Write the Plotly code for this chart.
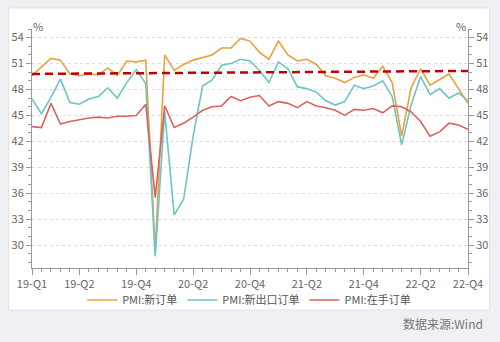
import plotly.graph_objects as go

months = list(range(47))
tick_vals = [0, 5, 11, 17, 23, 29, 35, 41, 46]
tick_text = ['19-Q1', '19-Q2', '19-Q4', '20-Q2', '20-Q4', '21-Q2', '21-Q4', '22-Q2', '22-Q4']

new_orders = [49.6, 50.6, 51.6, 51.4, 49.8, 49.6, 49.8, 49.7, 50.5, 49.6, 51.3, 51.2,
              51.4, 29.3, 52.0, 50.2, 50.9, 51.4, 51.7, 52.0, 52.8, 52.8, 53.9, 53.6,
              52.3, 51.5, 53.6, 52.0, 51.3, 51.5, 50.9, 49.6, 49.3, 48.8, 49.4, 49.7,
              49.3, 50.7, 48.8, 42.6, 48.2, 50.4, 48.5, 49.2, 49.8, 48.1, 46.4]
export_orders = [46.9, 45.2, 47.1, 49.2, 46.5, 46.3, 46.9, 47.2, 48.2, 47.0, 48.8, 50.3,
                 48.7, 28.7, 45.4, 33.5, 35.3, 42.6, 48.4, 49.1, 50.8, 51.0, 51.5, 51.3,
                 50.2, 48.8, 51.2, 50.4, 48.3, 48.1, 47.7, 46.7, 46.2, 46.6, 48.5, 48.1,
                 48.4, 49.0, 47.2, 41.6, 46.2, 49.5, 47.4, 48.1, 47.0, 47.6, 46.7]
backlog_orders = [43.7, 43.6, 46.4, 44.0, 44.3, 44.5, 44.7, 44.8, 44.7, 44.9, 44.9, 45.0,
                  46.3, 35.5, 46.1, 43.6, 44.1, 44.8, 45.6, 46.0, 46.1, 47.2, 46.7, 47.1,
                  47.3, 46.1, 46.6, 46.4, 45.9, 46.6, 46.1, 45.9, 45.6, 45.0, 45.7, 45.6,
                  45.8, 45.3, 46.1, 46.0, 45.4, 44.3, 42.6, 43.1, 44.1, 43.9, 43.4]
trend_x = [0, 46]
trend_y = [49.8, 50.15]

FONT = "Noto Sans CJK SC"
fig = go.Figure()
fig.add_trace(go.Scatter(x=months, y=new_orders, mode='lines', name='PMI:新订单',
                         line=dict(color='#E9A23B', width=1.6)))
fig.add_trace(go.Scatter(x=months, y=export_orders, mode='lines', name='PMI:新出口订单',
                         line=dict(color='#6DC4C7', width=1.6)))
fig.add_trace(go.Scatter(x=months, y=backlog_orders, mode='lines', name='PMI:在手订单',
                         line=dict(color='#D9625E', width=1.6)))
fig.add_trace(go.Scatter(x=trend_x, y=trend_y, mode='lines', showlegend=False,
                         line=dict(color='#C00000', width=2.5, dash='8px,5px')))
# invisible trace to carry the right axis
fig.add_trace(go.Scatter(x=months, y=new_orders, mode='lines', yaxis='y2', showlegend=False,
                         hoverinfo='skip', line=dict(color='rgba(0,0,0,0)', width=0)))

yrange = [27.35, 55]
axis_common = dict(range=yrange, tick0=30, dtick=3, ticks='outside', ticklen=5, tickcolor='#999',
                   showline=True, linecolor='#999', linewidth=1, zeroline=False,
                   tickfont=dict(family=FONT, size=11, color='#666'),
                   minor=dict(tickmode='linear', tick0=30, dtick=1, ticks='outside', ticklen=3,
                              tickcolor='#999', showgrid=False))

fig.update_layout(
    width=500, height=342,
    margin=dict(l=27, r=25, t=29, b=74),
    paper_bgcolor='#EEF0F4', plot_bgcolor='white',
    font=dict(family=FONT, size=11, color='#555'),
    xaxis=dict(range=[0, 46], tickmode='array', tickvals=tick_vals, ticktext=tick_text,
               ticks='outside', ticklen=6, tickcolor='#999', showline=True, linecolor='#999',
               showgrid=False, zeroline=False,
               tickfont=dict(family=FONT, size=11, color='#666'),
               minor=dict(tickmode='linear', tick0=0, dtick=1, ticks='outside', ticklen=3,
                          tickcolor='#999', showgrid=False)),
    yaxis=dict(**axis_common, showgrid=True, gridcolor='#DDDDDD', griddash='dot', side='left'),
    yaxis2=dict(**axis_common, showgrid=False, overlaying='y', side='right'),
    legend=dict(orientation='h', x=0.498, xanchor='center', y=-0.134, yanchor='middle',
                font=dict(family=FONT, size=11, color='#555'), itemwidth=30,
                bgcolor='rgba(0,0,0,0)'),
    showlegend=True,
    shapes=[dict(type='rect', xref='paper', yref='paper', x0=-0.0536, x1=1.049,
                 y0=-0.176, y1=1.088, fillcolor='white', line=dict(color='#DFE2E7', width=1),
                 layer='below')],
    annotations=[
        dict(text='%', xref='paper', yref='paper', x=-0.002, y=1.054, showarrow=False,
             font=dict(family=FONT, size=11, color='#666')),
        dict(text='%', xref='paper', yref='paper', x=1.0, y=1.054, showarrow=False,
             font=dict(family=FONT, size=11, color='#666')),
        dict(text='数据来源:Wind', xref='paper', yref='paper', x=1.040, y=-0.234,
             xanchor='right', yanchor='middle', showarrow=False,
             font=dict(family=FONT, size=12, color='#777')),
    ],
)
fig.write_html("out.html")
